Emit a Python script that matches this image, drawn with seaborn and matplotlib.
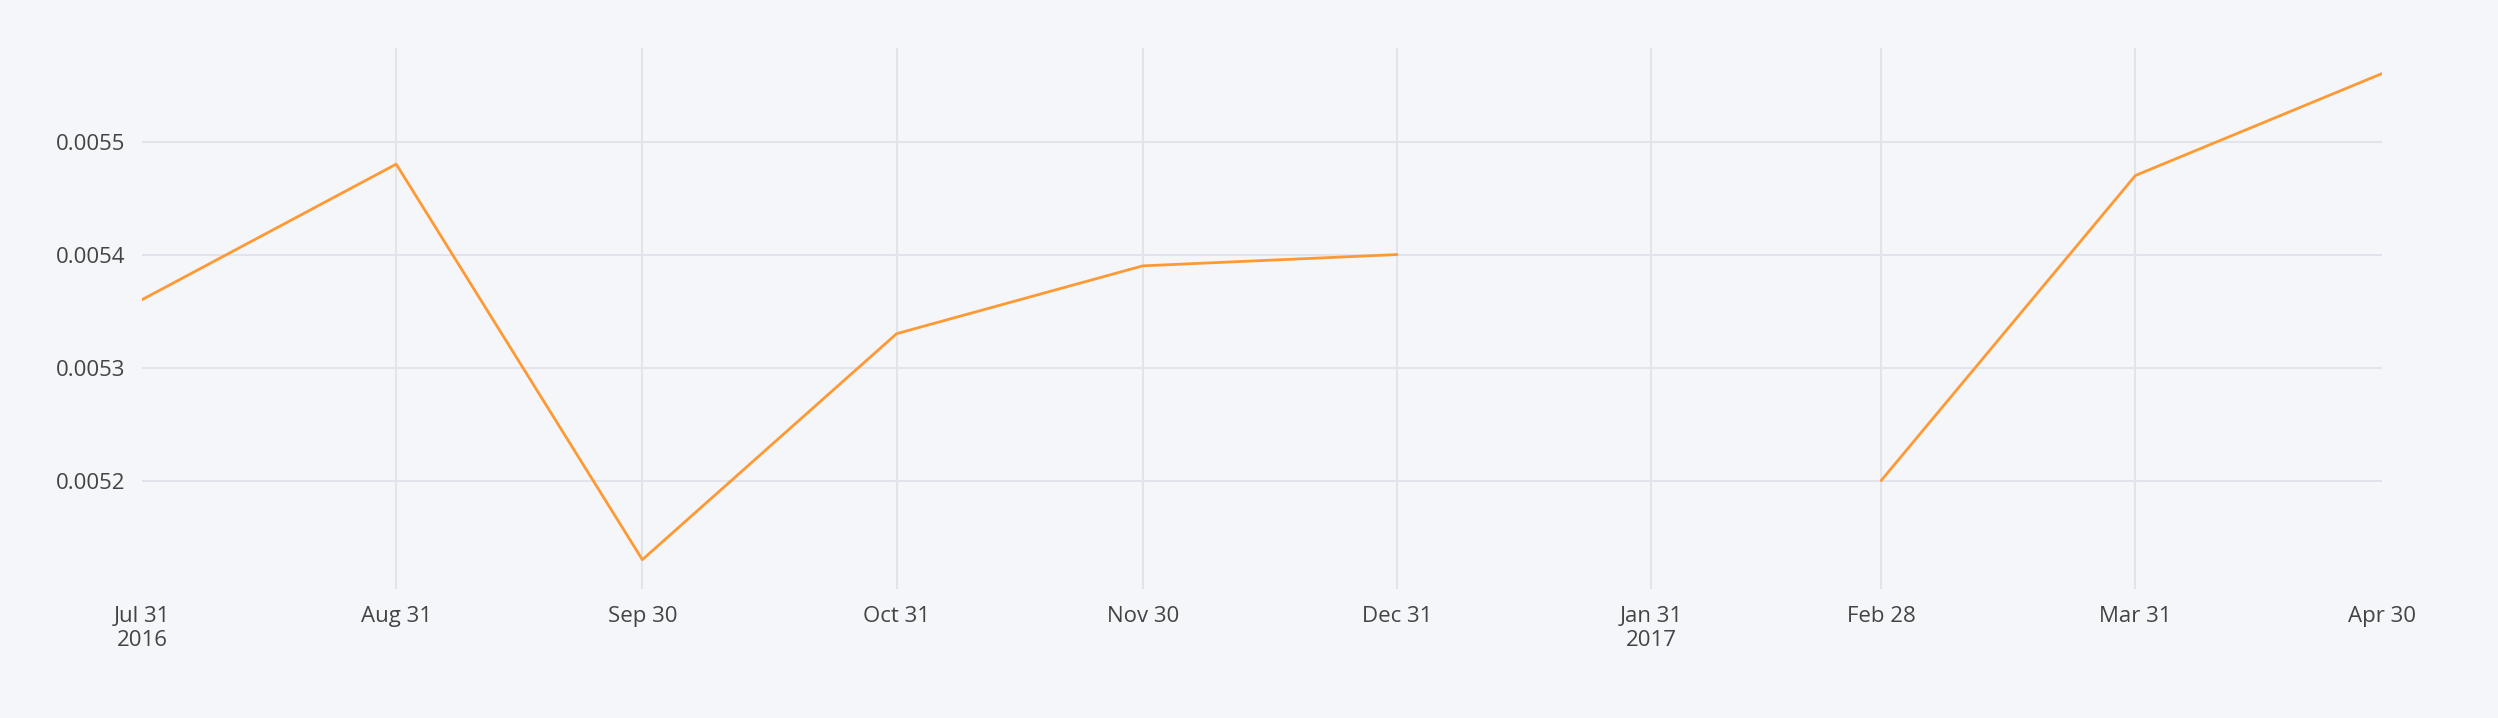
import matplotlib
matplotlib.use("Agg")
import matplotlib.pyplot as plt
import seaborn as sns
import pandas as pd
import numpy as np

dates = ["2016-07-31","2016-08-31","2016-09-30","2016-10-31","2016-11-30","2016-12-31",
         "2017-01-31","2017-02-28","2017-03-31","2017-04-30"]
values = [0.00536, 0.00548, 0.00513, 0.00533, 0.00539, 0.00540, np.nan, 0.00520, 0.00547, 0.00556]
tick_labels = ["Jul 31\n2016","Aug 31","Sep 30","Oct 31","Nov 30","Dec 31","Jan 31\n2017","Feb 28","Mar 31","Apr 30"]

df = pd.DataFrame({"date": pd.to_datetime(dates), "value": values})
df["seg"] = df["value"].isna().cumsum()
bg = "#f5f6fa"
sns.set_style("white")
plt.rcParams['font.family'] = ['Open Sans', 'DejaVu Sans']
fig = plt.figure(figsize=(24.98, 7.18), dpi=100, facecolor=bg)
ax = fig.add_axes([0.0568, 0.1796, 0.8966, 0.7539])
ax.set_facecolor(bg)
for _, g in df.dropna().groupby("seg"):
    sns.lineplot(data=g, x="date", y="value", ax=ax, color="#ff9933", linewidth=2)
ax.set_xlim(df["date"].iloc[0], df["date"].iloc[-1])
ax.set_ylim(0.005104, 0.005583)
ax.set_xticks(df["date"])
ax.set_xticklabels(tick_labels)
ax.set_yticks([0.0052, 0.0053, 0.0054, 0.0055])
ax.set_yticklabels(["0.0052", "0.0053", "0.0054", "0.0055"])
ax.grid(True, color="#e1e4ea", linewidth=1.5)
ax.set_axisbelow(True)
gl = ax.get_xgridlines()
gl[0].set_visible(False); gl[-1].set_visible(False)
for s in ax.spines.values():
    s.set_visible(False)
ax.tick_params(length=0, labelsize=16, colors="#444444", pad=12)
ax.set_xlabel(""); ax.set_ylabel("")
fig.savefig("out.png", facecolor=bg)
